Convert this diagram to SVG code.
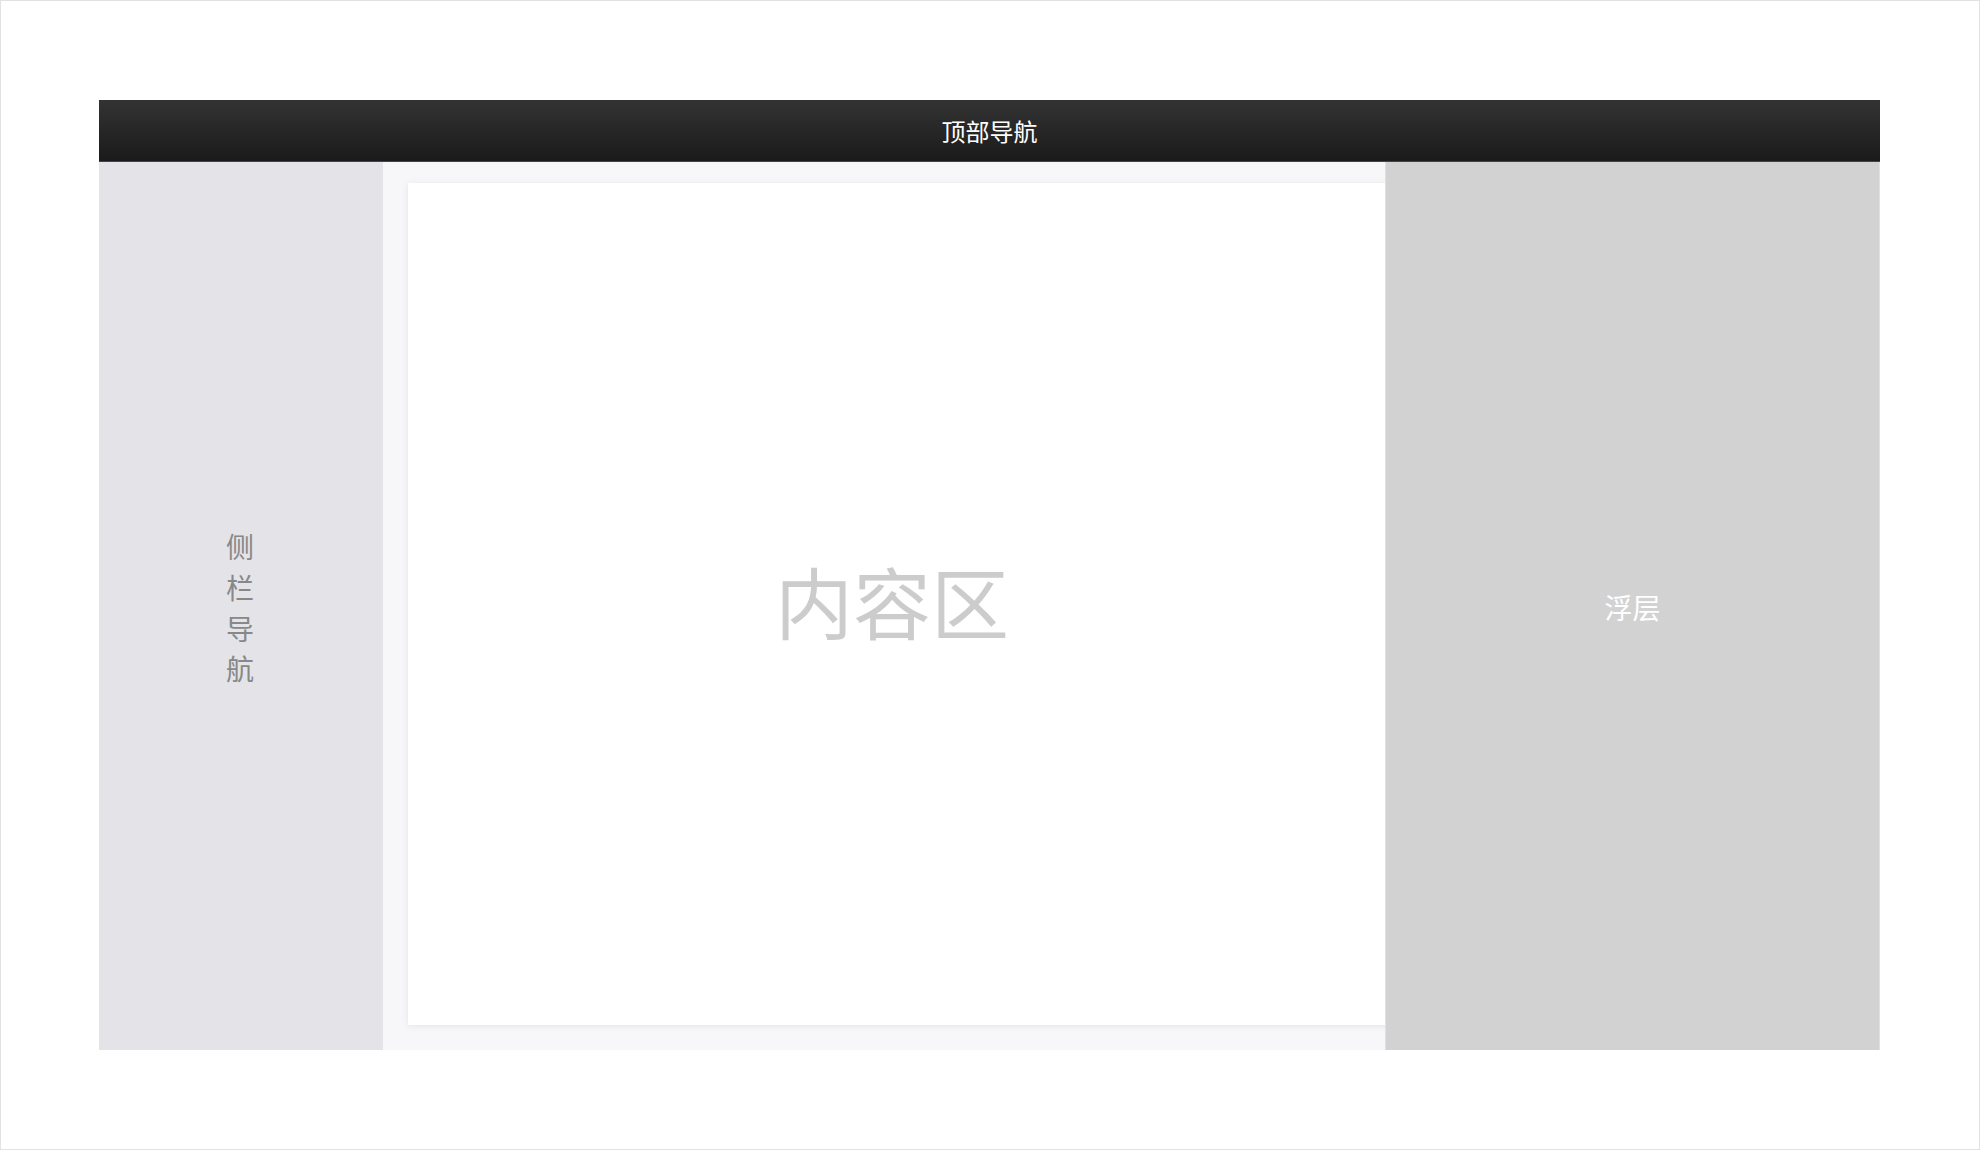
<svg xmlns="http://www.w3.org/2000/svg" width="1980" height="1150" viewBox="0 0 1980 1150">
  <style>
    .cjk { font-family: "Noto Sans CJK SC", "Noto Sans", sans-serif; text-anchor: middle; dominant-baseline: central; }
    .nav-text { font-size: 24px; fill: #ffffff; }
    .side-text { font-size: 28px; fill: #888888; }
    .content-text { font-size: 78px; fill: #cccccc; }
    .overlay-text { font-size: 28px; fill: #ffffff; }
  </style>
  <defs>
    <linearGradient id="navGrad" x1="0" y1="0" x2="0" y2="1">
      <stop offset="0" stop-color="#333333"/>
      <stop offset="1" stop-color="#1a1a1a"/>
    </linearGradient>
    <filter id="cardShadow" x="-5%" y="-5%" width="110%" height="110%">
      <feDropShadow dx="0" dy="1" stdDeviation="3" flood-color="#000000" flood-opacity="0.08"/>
    </filter>
  </defs>

  <rect x="0" y="0" width="1980" height="1150" fill="#ffffff"/>
  <rect x="0.5" y="0.5" width="1979" height="1149" fill="none" stroke="#e2e2e2" stroke-width="1"/>

  <g id="content">
    <rect x="383" y="162" width="1002" height="888" fill="#f7f7f9"/>
    <rect x="408" y="183" width="1000" height="842" fill="#ffffff" filter="url(#cardShadow)"/>
    <text class="cjk content-text" x="892" y="600">内容区</text>
  </g>

  <g id="sidebar">
    <rect x="99" y="162" width="284" height="888" fill="#e4e3e8"/>
    <text class="cjk side-text" x="240" y="545.5">侧</text>
    <text class="cjk side-text" x="240" y="587">栏</text>
    <text class="cjk side-text" x="240" y="627.5">导</text>
    <text class="cjk side-text" x="240" y="668">航</text>
  </g>

  <g id="overlay">
    <rect x="1385" y="162" width="495" height="888" fill="#d2d2d2"/>
    <line x1="1385.5" y1="162" x2="1385.5" y2="1050" stroke="#e0e0e0" stroke-width="1"/>
    <line x1="1879.5" y1="162" x2="1879.5" y2="1050" stroke="#e0e0e0" stroke-width="1"/>
    <text class="cjk overlay-text" x="1632.5" y="607">浮层</text>
  </g>

  <g id="topnav">
    <rect x="99" y="100" width="1781" height="62" fill="url(#navGrad)"/>
    <line x1="99" y1="161.5" x2="1880" y2="161.5" stroke="#444444" stroke-width="1"/>
    <text class="cjk nav-text" x="989.5" y="130">顶部导航</text>
  </g>

  <g id="connectors"></g>
</svg>
